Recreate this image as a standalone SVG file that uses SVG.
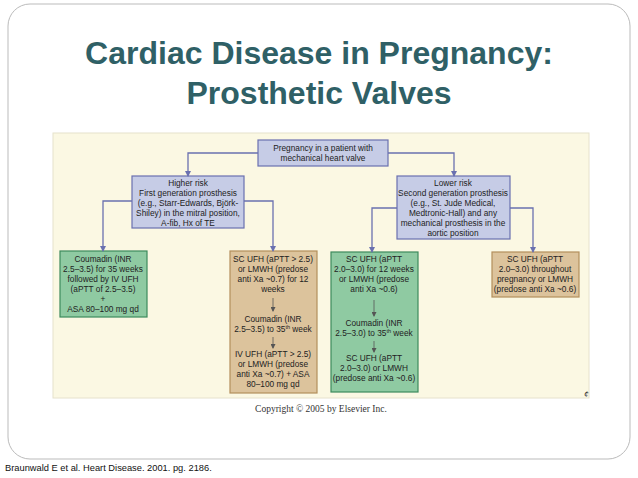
<svg xmlns="http://www.w3.org/2000/svg" width="638" height="478" viewBox="0 0 638 478">
<defs>
<marker id="ah" markerWidth="6" markerHeight="6" refX="5" refY="3" orient="auto" markerUnits="userSpaceOnUse"><path d="M0,0 L6,3 L0,6 z" fill="#6a70b0"/></marker>
<marker id="ad" markerWidth="5" markerHeight="5" refX="4" refY="2.5" orient="auto" markerUnits="userSpaceOnUse"><path d="M0,0 L5,2.5 L0,5 z" fill="#555"/></marker>
</defs>
<style>
.t{font-family:"Liberation Sans",Arial,sans-serif;font-size:8.3px;fill:#222;text-anchor:middle}
.b{fill:#c6cce6;stroke:#6a70b0;stroke-width:1.2}
.g{fill:#8fcaa2;stroke:#3d8a5c;stroke-width:1.2}
.n{fill:#dcc39c;stroke:#b38f5c;stroke-width:1.2}
.c{fill:none;stroke:#6a70b0;stroke-width:1.3;marker-end:url(#ah)}
.d{fill:none;stroke:#555;stroke-width:0.8;marker-end:url(#ad)}
</style>
<rect x="0" y="0" width="638" height="478" fill="#fff"/>
<rect x="8" y="4" width="622" height="455" rx="22" fill="none" stroke="#bbb" stroke-width="1"/>
<text x="319" y="64" font-family="Liberation Sans,Arial,sans-serif" font-weight="bold" font-size="32" fill="#2f6066" text-anchor="middle">Cardiac Disease in Pregnancy:</text>
<text x="319" y="104" font-family="Liberation Sans,Arial,sans-serif" font-weight="bold" font-size="32" fill="#2f6066" text-anchor="middle">Prosthetic Valves</text>
<rect x="53" y="133" width="536" height="265" fill="#fbf8e3" stroke="#e6e2cc"/>
<g id="top"><rect class="b" x="258" y="140" width="130" height="26"/>
<text class="t" x="323" y="151">Pregnancy in a patient with</text><text class="t" x="323" y="161">mechanical heart valve</text></g>
<g id="higher"><rect class="b" x="132" y="176" width="112" height="52"/>
<text class="t" x="188" y="186">Higher risk</text><text class="t" x="188" y="196">First generation prosthesis</text><text class="t" x="188" y="206">(e.g., Starr-Edwards, Björk-</text><text class="t" x="188" y="216">Shiley) in the mitral position,</text><text class="t" x="188" y="226">A-fib, Hx of TE</text></g>
<g id="lower"><rect class="b" x="397" y="176" width="113" height="63"/>
<text class="t" x="453" y="186">Lower risk</text><text class="t" x="453" y="196">Second generation prosthesis</text><text class="t" x="453" y="206">(e.g., St. Jude Medical,</text><text class="t" x="453" y="216">Medtronic-Hall) and any</text><text class="t" x="453" y="226">mechanical prosthesis in the</text><text class="t" x="453" y="236">aortic position</text></g>
<g id="green1"><rect class="g" x="60" y="251" width="87" height="66"/>
<text class="t" x="103" y="262">Coumadin (INR</text><text class="t" x="103" y="272">2.5–3.5) for 35 weeks</text><text class="t" x="103" y="282">followed by IV UFH</text><text class="t" x="103" y="292">(aPTT of 2.5–3.5)</text><text class="t" x="103" y="302">+</text><text class="t" x="103" y="312">ASA 80–100 mg qd</text></g>
<g id="tan1"><rect class="n" x="230" y="251" width="87" height="142"/>
<text class="t" x="273" y="262">SC UFH (aPTT &gt; 2.5)</text><text class="t" x="273" y="272">or LMWH (predose</text><text class="t" x="273" y="282">anti Xa ~0.7) for 12</text><text class="t" x="273" y="292">weeks</text>
<text class="t" x="273" y="322">Coumadin (INR</text><text class="t" x="273" y="332">2.5–3.5) to 35<tspan font-size="5.5" dy="-3">th</tspan><tspan dy="3"> week</tspan></text>
<text class="t" x="273" y="357">IV UFH (aPTT &gt; 2.5)</text><text class="t" x="273" y="367">or LMWH (predose</text><text class="t" x="273" y="377">anti Xa ~0.7) + ASA</text><text class="t" x="273" y="387">80–100 mg qd</text></g>
<g id="green2"><rect class="g" x="331" y="252" width="87" height="140"/>
<text class="t" x="374" y="262">SC UFH (aPTT</text><text class="t" x="374" y="272">2.0–3.0) for 12 weeks</text><text class="t" x="374" y="282">or LMWH (predose</text><text class="t" x="374" y="292">anti Xa ~0.6)</text>
<text class="t" x="374" y="326">Coumadin (INR</text><text class="t" x="374" y="336">2.5–3.0) to 35<tspan font-size="5.5" dy="-3">th</tspan><tspan dy="3"> week</tspan></text>
<text class="t" x="374" y="361">SC UFH (aPTT</text><text class="t" x="374" y="371">2.0–3.0) or LMWH</text><text class="t" x="374" y="381">(predose anti Xa ~0.6)</text></g>
<g id="tan2"><rect class="n" x="492" y="252" width="87" height="45"/>
<text class="t" x="535" y="262">SC UFH (aPTT</text><text class="t" x="535" y="272">2.0–3.0) throughout</text><text class="t" x="535" y="282">pregnancy or LMWH</text><text class="t" x="535" y="292">(predose anti Xa ~0.6)</text></g>
<g id="connectors">
<path class="c" d="M258,153 H188 V176"/>
<path class="c" d="M388,153 H454 V176"/>
<path class="c" d="M132,201 H103 V251"/>
<path class="c" d="M244,201 H273 V251"/>
<path class="c" d="M397,208 H372 V252"/>
<path class="c" d="M510,208 H533 V252"/>
<path class="d" d="M273,298 V311"/>
<path class="d" d="M273,337 V348"/>
<path class="d" d="M374,300 V316"/>
<path class="d" d="M374,341 V352"/>
</g>
<text x="321" y="412" font-family="Liberation Serif,serif" font-size="9.5" fill="#333" text-anchor="middle">Copyright © 2005 by Elsevier Inc.</text>
<text x="584" y="397" font-family="Liberation Serif,serif" font-size="9" font-style="italic" fill="#333">¢</text>
<text x="5" y="471" font-family="Liberation Sans,Arial,sans-serif" font-size="9.3" fill="#111">Braunwald E et al. Heart Disease. 2001. pg. 2186.</text>
</svg>
